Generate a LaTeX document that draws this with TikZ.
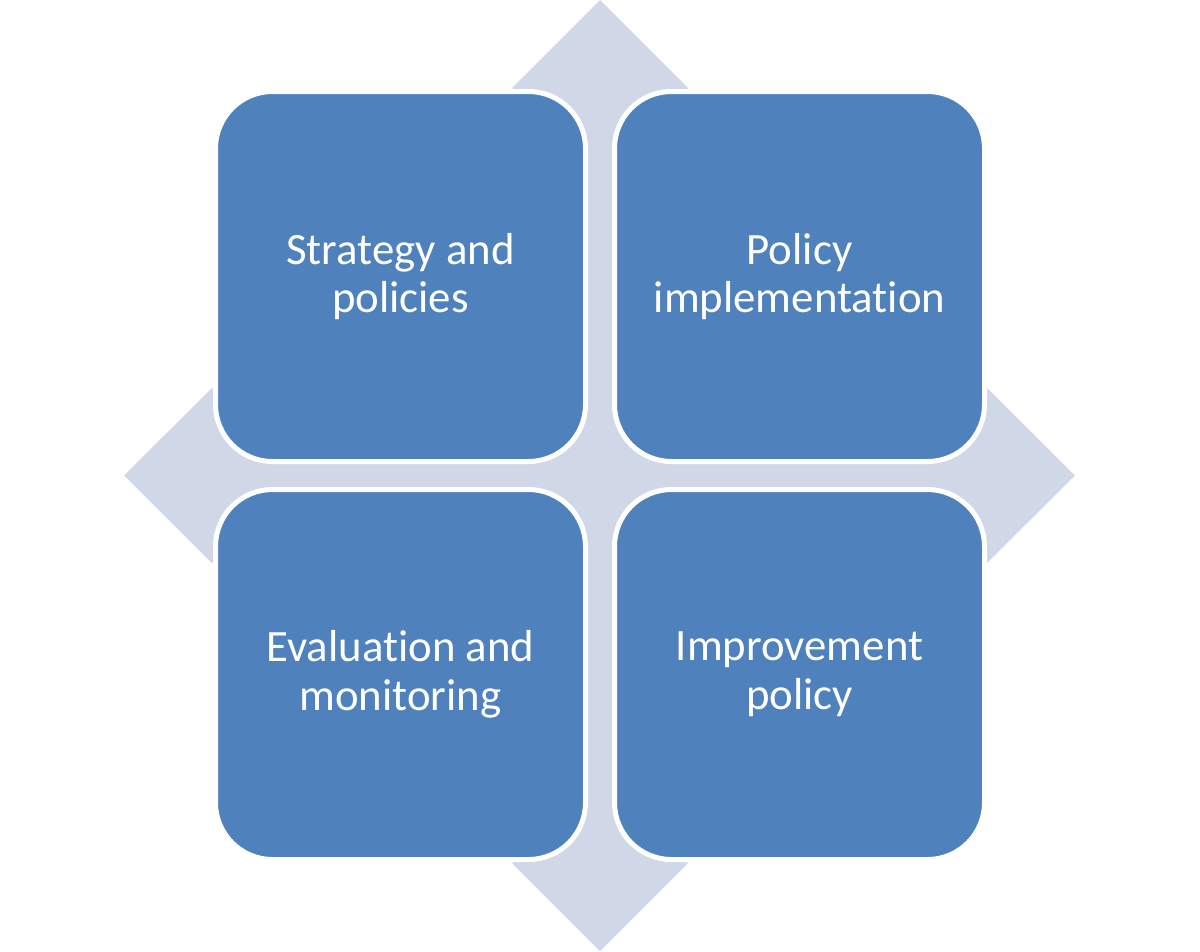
\documentclass[tikz,border=0pt]{standalone}
\usepackage{fontspec}
\setmainfont[Ligatures={NoCommon}]{Carlito}
\definecolor{boxblue}{HTML}{4F81BD}
\definecolor{arrowgray}{HTML}{D0D8E8}
\begin{document}
\begin{tikzpicture}[x=1pt,y=-1pt,
  quad/.style={rounded corners=57pt, fill=boxblue, draw=white, line width=5pt,
    minimum width=370pt, minimum height=370pt, inner sep=0pt,
    text=white, align=center, font=\fontsize{44.8}{48.8}\selectfont}]
\useasboundingbox (0,0) rectangle (1200,951);
% background quad arrow
\fill[arrowgray] (600,0) -- (687.5,87.5) -- (687.5,388) -- (987,388) -- (1075,475.5)
  -- (987,563) -- (687.5,563) -- (687.5,863.5) -- (600,951) -- (512.5,863.5)
  -- (512.5,563) -- (212,563) -- (124,475.5) -- (212,388) -- (512.5,388)
  -- (512.5,87.5) -- cycle;
\node[quad] (sp) at (400.5,276.5) {Strategy and\\policies};
\node[quad] (pi) at (799.5,276.5) {Policy\\implementation};
\node[quad] (em) at (400.5,674.5) {Evaluation and\\monitoring};
\node[quad] (ip) at (799.5,674.5) {Improvement\\policy};
\end{tikzpicture}
\end{document}
